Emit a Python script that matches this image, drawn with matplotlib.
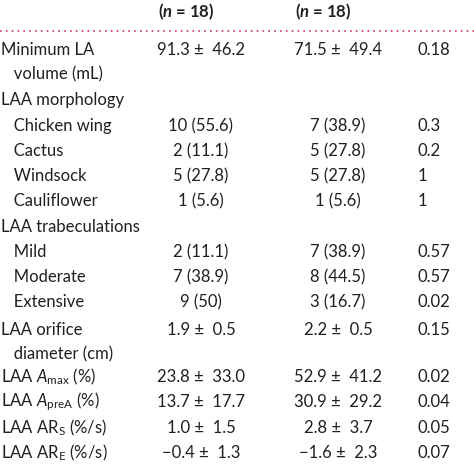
import matplotlib
matplotlib.use("Agg")
import matplotlib.pyplot as plt

plt.rcParams['font.family'] = ['Lato', 'DejaVu Sans']
plt.rcParams['mathtext.fontset'] = 'custom'
plt.rcParams['mathtext.rm'] = 'Lato'
plt.rcParams['mathtext.it'] = 'Lato:italic'
plt.rcParams['mathtext.bf'] = 'Lato:bold:italic'

headers = [r'($\mathbf{n}$ = 18)', r'($\mathbf{n}$ = 18)']

labels = ['Minimum LA\n   volume (mL)', 'LAA morphology', '   Chicken wing', '   Cactus',
          '   Windsock', '   Cauliflower', 'LAA trabeculations', '   Mild', '   Moderate',
          '   Extensive', 'LAA orifice\n   diameter (cm)', r'LAA $A_{\mathrm{max}}$ (%)',
          r'LAA $A_{\mathrm{preA}}$ (%)', r'LAA AR$_{\mathrm{S}}$ (%/s)',
          r'LAA AR$_{\mathrm{E}}$ (%/s)']
group1 = ['91.3 ± 46.2', '', '10 (55.6)', '2 (11.1)', '5 (27.8)', '1 (5.6)', '',
          '2 (11.1)', '7 (38.9)', '9 (50)', '1.9 ± 0.5', '23.8 ± 33.0', '13.7 ± 17.7',
          '1.0 ± 1.5', '−0.4 ± 1.3']
group2 = ['71.5 ± 49.4', '', '7 (38.9)', '5 (27.8)', '5 (27.8)', '1 (5.6)', '',
          '7 (38.9)', '8 (44.5)', '3 (16.7)', '2.2 ± 0.5', '52.9 ± 41.2', '30.9 ± 29.2',
          '2.8 ± 3.7', '−1.6 ± 2.3']
pvals = ['0.18', '', '0.3', '0.2', '1', '1', '', '0.57', '0.57', '0.02', '0.15',
         '0.02', '0.04', '0.05', '0.07']

row_y = [50, 100, 126, 151, 176, 201, 227, 252, 277, 302, 330, 377, 402, 428, 453]

fig = plt.figure(figsize=(4.74, 4.74), dpi=100)
ax = fig.add_axes([0, 0, 1, 1])
ax.set_xlim(0, 474)
ax.set_ylim(474, 0)
ax.axis('off')

fs = 12
color = '#231f20'
ax.text(186, 12, headers[0], ha='center', va='center', fontsize=fs, fontweight='bold', color=color)
ax.text(323, 12, headers[1], ha='center', va='center', fontsize=fs, fontweight='bold', color=color)
ax.plot([0, 474], [31, 31], linestyle=(0, (1, 2.5)), color='#c8385a', linewidth=1.2)

for y, lab, a, b, p in zip(row_y, labels, group1, group2, pvals):
    a = a.replace(' ± ', ' ±  ')
    b = b.replace(' ± ', ' ±  ')
    if '\n' in lab:
        first, second = lab.split('\n')
        ax.text(1, y, first, ha='left', va='center', fontsize=fs, color=color)
        ax.text(1, y + 24, second, ha='left', va='center', fontsize=fs, color=color)
    else:
        ax.text(1, y, lab, ha='left', va='center', fontsize=fs, color=color)
    ax.text(201, y, a, ha='center', va='center', fontsize=fs, color=color)
    ax.text(338, y, b, ha='center', va='center', fontsize=fs, color=color)
    ax.text(418, y, p, ha='left', va='center', fontsize=fs, color=color)

fig.savefig('out.png', dpi=100, facecolor='white')
